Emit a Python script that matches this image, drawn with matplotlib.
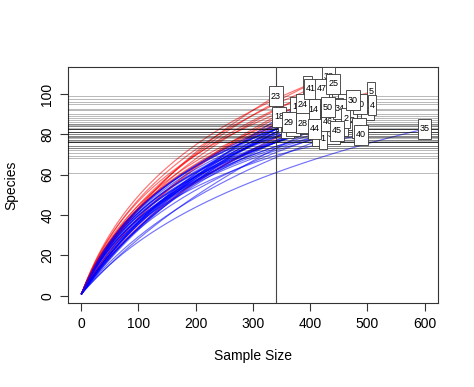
import numpy as np
import matplotlib.pyplot as plt
from matplotlib.patches import Rectangle

plt.rcParams['font.family'] = ['Liberation Sans', 'DejaVu Sans']

# rarefaction depth (vertical line)
rare_depth = 340

# samples, in the order their labels are drawn (later ones sit on top)
labels = ['6', '9', '11', '3', '7', '8', '10', '12', '15', '16', '17', '19', '21',
          '22', '26', '27', '31', '32', '33', '36', '37', '39', '42', '43', '48', '49',
          '1', '46', '13', '14', '18', '38', '20', '34', '23', '29', '24', '28', '41',
          '47', '25', '50', '2', '30', '5', '4', '44', '45', '40', '35']
sample_size = [395, 430, 460, 412, 400, 425, 445, 470, 435, 390, 370, 355, 465,
               470, 425, 410, 500, 445, 390, 440, 455, 415, 360, 370, 430, 485,
               422, 431, 377, 405, 346, 432, 487, 452, 340, 363, 387, 387, 401,
               421, 440, 431, 462, 475, 506, 508, 408, 447, 489, 600]
species = [104, 98, 95, 95, 88, 90, 88, 90, 85, 85, 86, 86, 86,
           87, 83, 83, 92, 93, 90, 80, 84, 79, 83, 84, 89, 83,
           77.7, 86.6, 93.6, 92.5, 88.6, 108.5, 95, 92.6, 99, 86, 95, 85.6, 102.5,
           102.5, 105, 93.5, 88, 97, 101, 94.5, 82.7, 81.7, 79.7, 82.7]
# rarefied richness at 340 (horizontal lines)
rarefied = [96, 90, 86, 85, 82.5, 82.5, 78.5, 79, 76, 80, 82.5, 84, 76,
            76.5, 76, 77, 79, 83, 84.5, 72, 74, 73, 81, 81, 81, 74,
            68.5, 76, 89, 82.5, 88, 97.5, 78, 78.5, 99, 82.5, 87, 80, 95,
            92.5, 92, 81, 76, 84, 85, 77, 73, 71, 69.5, 61]
group = ['r', 'r', 'r', 'b', 'b', 'b', 'b', 'b', 'b', 'b', 'b', 'b', 'b',
         'b', 'b', 'b', 'b', 'b', 'b', 'b', 'b', 'b', 'b', 'b', 'b', 'b',
         'b', 'b', 'r', 'b', 'r', 'r', 'r', 'b', 'r', 'b', 'b', 'b', 'r',
         'r', 'r', 'b', 'b', 'r', 'r', 'b', 'b', 'b', 'b', 'b']

colours = {'r': 'red', 'b': 'blue'}


def shape(n, c):
    return np.log1p((n - 1) / c)


def fit_c(N, S, R):
    """curvature so the curve runs through (340, R) and (N, S)"""
    if N - rare_depth < 40:
        return 150.0
    target = (S - 1) / (R - 1)
    lo, hi = 5.0, 5000.0
    for _ in range(60):
        mid = np.sqrt(lo * hi)
        if shape(N, mid) / shape(rare_depth, mid) < target:
            lo = mid
        else:
            hi = mid
    return float(np.clip(mid, 60, 300))


def rare_curve(N, S, R):
    c = fit_c(N, S, R)
    n = np.arange(1, N + 1, dtype=float)
    g = shape(n, c)
    g0 = shape(rare_depth, c)
    y = 1 + (R - 1) * g / g0
    if N > rare_depth:
        gN = shape(N, c)
        hi = n > rare_depth
        y[hi] = R + (S - R) * (g[hi] - g0) / (gN - g0)
    return n, y


fig = plt.figure(figsize=(4.74, 3.87), dpi=100)
ax = fig.add_axes([0.1435, 0.217, 0.78, 0.61])
xlim = (-22.7, 622.7)
ylim = (-3.6, 113.4)
ax.set_xlim(*xlim)
ax.set_ylim(*ylim)

order = sorted(range(len(labels)), key=lambda i: int(labels[i]))
for i in order:
    n, y = rare_curve(sample_size[i], species[i], rarefied[i])
    ax.plot(n, y, color=colours[group[i]], lw=0.85, alpha=0.55, zorder=2)

ax.axvline(rare_depth, color='#444444', lw=0.8, zorder=3)
for r in rarefied:
    ax.axhline(r, color='black', lw=0.7, alpha=0.28, zorder=3)

# label boxes (sizes in pixels converted to data units)
bbox = ax.get_position()
ux = (xlim[1] - xlim[0]) / (bbox.width * 474)
uy = (ylim[1] - ylim[0]) / (bbox.height * 387)
for k in range(len(labels)):
    w = (3.5 + 5.0 * len(labels[k])) * ux
    h = 20 * uy
    x0, y0 = sample_size[k], species[k]
    ax.add_patch(Rectangle((x0 - w / 2, y0 - h / 2), w, h, facecolor='white',
                           edgecolor='#333333', lw=0.6, zorder=10 + 2 * k,
                           clip_on=False))
    ax.text(x0, y0, labels[k], ha='center', va='center', fontsize=6.5,
            zorder=11 + 2 * k, clip_on=False)

ax.set_xticks([0, 100, 200, 300, 400, 500, 600])
ax.set_yticks([0, 20, 40, 60, 80, 100])
ax.tick_params(labelsize=10, length=6, width=0.8, color='#333333', pad=4)
plt.setp(ax.get_yticklabels(), rotation=90, va='center')
ax.set_xlabel('Sample Size', fontsize=10, labelpad=13)
ax.set_ylabel('Species', fontsize=10, labelpad=16)
for sp in ax.spines.values():
    sp.set_color('#333333')
    sp.set_linewidth(0.8)

fig.savefig('out.png', dpi=100)
